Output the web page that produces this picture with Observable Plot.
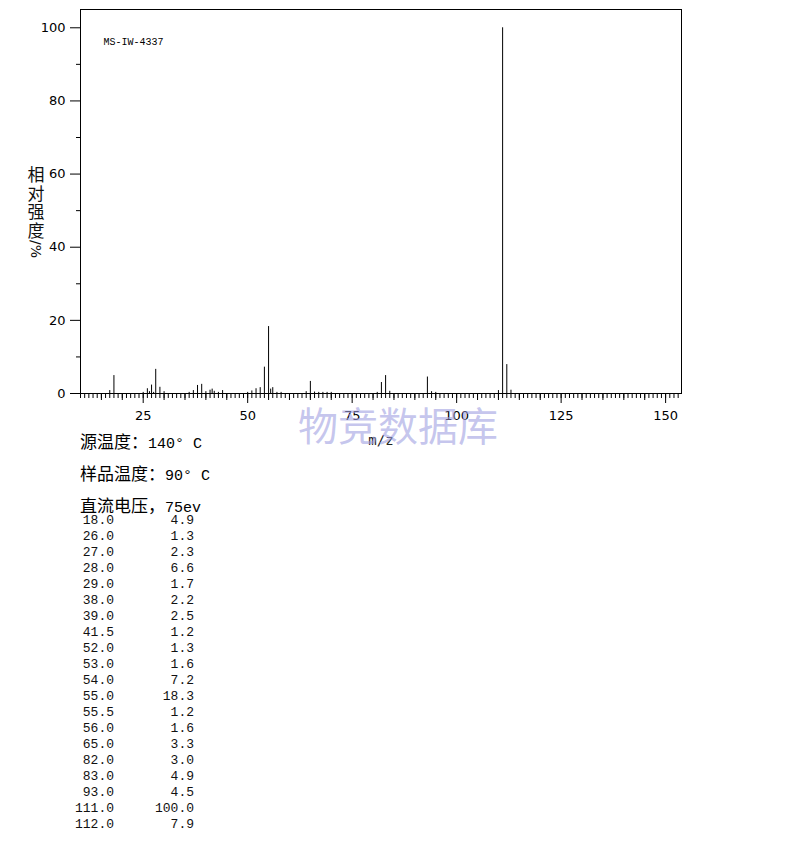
<!DOCTYPE html>
<html>
<head>
<meta charset="utf-8">
<script src="https://cdn.jsdelivr.net/npm/d3@7"></script>
<script src="https://cdn.jsdelivr.net/npm/@observablehq/plot@0.6"></script>
<style>
  body { margin: 0; background: #fff; }
  #wrap { position: relative; width: 794px; height: 850px; overflow: hidden; background: #fff; }
  #chart { position: absolute; left: 0; top: 0; }
  .ylabel { position: absolute; left: 26px; top: 165px; width: 20px; font-family: "Noto Sans CJK SC", sans-serif; font-size: 17px; color: #111; text-align: center; }
  .ylabel .ch { display: block; height: 18.5px; line-height: 18.5px; }
  .ylabel .rot { display: block; height: 20px; line-height: 20px; transform: rotate(90deg); font-family: "DejaVu Sans", sans-serif; font-size: 14px; }
  .xlabel { position: absolute; left: 381px; top: 432px; transform: translateX(-50%); font-family: "DejaVu Sans Mono", monospace; font-size: 14px; color: #222; }
  .watermark { position: absolute; left: 298px; top: 400px; font-family: "Noto Sans CJK SC", sans-serif; font-size: 40px; line-height: 48px; color: rgba(160,160,225,0.6); z-index: 5; white-space: nowrap; }
  .cond { position: absolute; left: 80px; height: 20px; line-height: 20px; white-space: nowrap; color: #000; }
  .cond .zh { font-family: "Noto Sans CJK SC", sans-serif; font-size: 17px; }
  .cond .lat { font-family: "Liberation Mono", monospace; font-size: 15px; }
  #table { position: absolute; left: 0; top: 513px; font-family: "Liberation Mono", monospace; font-size: 13px; color: #111; }
  #table .row { position: relative; height: 16px; line-height: 16px; }
  #table .c1 { position: absolute; left: 60px; width: 54px; text-align: right; }
  #table .c2 { position: absolute; left: 114px; width: 80px; text-align: right; }
</style>
</head>
<body>
<div id="wrap">
  <div id="chart"></div>
  <div class="ylabel" id="ylabel"></div>
  <div class="xlabel">m/z</div>
  <div class="watermark">物竞数据库</div>
  <div id="conds"></div>
  <div id="table"></div>
</div>
<script>
// Listed peaks (m/z, relative intensity %)
const listedMz = [18.0, 26.0, 27.0, 28.0, 29.0, 38.0, 39.0, 41.5, 52.0, 53.0, 54.0, 55.0, 55.5, 56.0, 65.0, 82.0, 83.0, 93.0, 111.0, 112.0];
const listedIntensity = [4.9, 1.3, 2.3, 6.6, 1.7, 2.2, 2.5, 1.2, 1.3, 1.6, 7.2, 18.3, 1.2, 1.6, 3.3, 3.0, 4.9, 4.5, 100.0, 7.9];

// Small unlisted peaks
const minorMz = [17, 25, 26.5, 27.5, 30, 36, 37, 40, 41, 42, 43, 44, 50, 51, 57, 58, 64, 66, 67, 68, 69, 70, 81, 84, 94, 95, 110, 113];
const minorIntensity = [0.8, 0.3, 0.5, 0.3, 0.5, 0.3, 0.8, 0.5, 0.9, 0.6, 0.3, 0.8, 0.3, 0.7, 0.3, 0.3, 0.5, 0.4, 0.3, 0.3, 0.3, 0.3, 0.3, 0.6, 0.5, 0.3, 0.8, 0.9];

// Axis ticks
const yMajorTicks = [0, 20, 40, 60, 80, 100];
const yMinorTicks = [10, 30, 50, 70, 90];
const xMajorTicks = [25, 50, 75, 100, 125, 150];
const xMidTicks = [15, 20, 30, 35, 40, 45, 55, 60, 65, 70, 80, 85, 90, 95, 105, 110, 115, 120, 130, 135, 140, 145];
const xMinorTicks = d3.range(10, 154, 1);

// Texts
const yLabelChars = ["相", "对", "强", "度"];
const yLabelUnit = "/%";
const condLabels = ["源温度：", "样品温度：", "直流电压，"];
const condValues = ["140° C", "90° C", "75ev"];
const sampleId = "MS-IW-4337";

const peaks = [
  ...listedMz.map((mz, i) => ({mz, intensity: listedIntensity[i]})),
  ...minorMz.map((mz, i) => ({mz, intensity: minorIntensity[i]}))
];

const plot = Plot.plot({
  width: 794,
  height: 430,
  marginLeft: 80,
  marginRight: 113,
  marginTop: 9,
  marginBottom: 37,
  style: {fontFamily: "DejaVu Sans, sans-serif", fontSize: "13px", color: "#000", background: "#fff"},
  x: {domain: [10, 153.8]},
  y: {domain: [0, 105]},
  marks: [
    Plot.ruleX(peaks, {x: "mz", y1: 0, y2: "intensity", stroke: "#000", strokeWidth: 1}),
    Plot.axisX({ticks: xMinorTicks, tickSize: 5, tickFormat: () => "", label: null, stroke: "#000"}),
    Plot.axisX({ticks: xMidTicks, tickSize: 7, tickFormat: () => "", label: null, stroke: "#000"}),
    Plot.axisX({ticks: xMajorTicks, tickSize: 10, tickPadding: 7, label: null, stroke: "#000", fill: "#000"}),
    Plot.axisY({ticks: yMajorTicks, tickSize: 10, tickPadding: 5, label: null, stroke: "#000", fill: "#000"}),
    Plot.axisY({ticks: yMinorTicks, tickSize: 4, tickFormat: () => "", label: null, stroke: "#000"}),
    Plot.frame({stroke: "#000", strokeWidth: 1}),
    Plot.text([sampleId], {frameAnchor: "top-left", dx: 23, dy: 32, text: d => d, textAnchor: "start", lineAnchor: "middle", fontFamily: "Liberation Mono, monospace", fontSize: 10, fill: "#000"})
  ]
});
document.getElementById("chart").appendChild(plot);

// Vertical y label
const yl = document.getElementById("ylabel");
yLabelChars.forEach(c => {
  const s = document.createElement("span");
  s.className = "ch";
  s.textContent = c;
  yl.appendChild(s);
});
const u = document.createElement("span");
u.className = "rot";
u.textContent = yLabelUnit;
yl.appendChild(u);

// Conditions lines
const conds = document.getElementById("conds");
condLabels.forEach((lab, i) => {
  const d = document.createElement("div");
  d.className = "cond";
  d.style.top = (431 + i * 32) + "px";
  d.innerHTML = `<span class="zh">${lab}</span><span class="lat">${condValues[i]}</span>`;
  conds.appendChild(d);
});

// Peak table
const table = document.getElementById("table");
listedMz.forEach((mz, i) => {
  const r = document.createElement("div");
  r.className = "row";
  r.innerHTML = `<span class="c1">${mz.toFixed(1)}</span><span class="c2">${listedIntensity[i].toFixed(1)}</span>`;
  table.appendChild(r);
});
</script>
</body>
</html>
